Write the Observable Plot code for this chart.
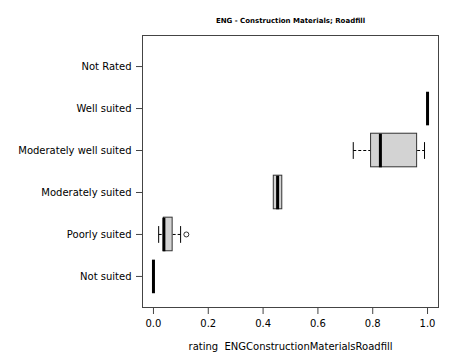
<!DOCTYPE html>
<html><head><meta charset="utf-8">
<script src="https://cdn.jsdelivr.net/npm/d3@7"></script>
<script src="https://cdn.jsdelivr.net/npm/@observablehq/plot@0.6"></script>
<style>
body{margin:0;background:#fff;}
svg text{white-space:pre;}
</style></head>
<body><div id="chart"></div>
<script>
const title = "ENG - Construction Materials; Roadfill";
const xLabel = "rating  ENGConstructionMaterialsRoadfill";
const categories = ["Not suited","Poorly suited","Moderately suited","Moderately well suited","Well suited","Not Rated"];
const whiskerLo = [0, 0.019, 0.439, 0.729, 1.0, null];
const q1        = [0, 0.038, 0.439, 0.794, 1.0, null];
const median    = [0, 0.038, 0.453, 0.828, 1.0, null];
const q3        = [0, 0.070, 0.470, 0.962, 1.0, null];
const whiskerHi = [0, 0.099, 0.470, 0.989, 1.0, null];
const outlierCat = ["Poorly suited"];
const outlierVal = [0.12];
const xTicks = [0, 0.2, 0.4, 0.6, 0.8, 1.0];

const stats = categories.map((c, i) => ({
  cat: c, pos: i + 1, lo: whiskerLo[i], q1: q1[i], med: median[i], q3: q3[i], hi: whiskerHi[i]
})).filter(d => d.med != null);
const outliers = outlierCat.map((c, i) => ({pos: categories.indexOf(c) + 1, v: outlierVal[i]}));

const font = "DejaVu Sans";
const chart = Plot.plot({
  width: 474, height: 355,
  marginLeft: 142, marginRight: 36, marginTop: 35, marginBottom: 48,
  style: {fontFamily: font, fontSize: "10px", color: "#000", background: "#fff"},
  x: {domain: [-0.04, 1.04], ticks: xTicks, tickFormat: d3.format(".1f")},
  y: {domain: [0.26, 6.74], ticks: categories.map((c, i) => i + 1), tickFormat: d => categories[d - 1]},
  marks: [
    Plot.frame({stroke: "#444", strokeWidth: 1}),
    Plot.axisX({ticks: xTicks, tickFormat: d3.format(".1f"), tickSize: 7, tickPadding: 5, label: null, stroke: "#444"}),
    Plot.axisY({ticks: categories.map((c, i) => i + 1), tickFormat: d => categories[d - 1], tickSize: 6, tickPadding: 5, label: null, stroke: "#444"}),
    Plot.link(stats.filter(d => d.lo < d.q1), {x1: "lo", x2: "q1", y1: "pos", y2: "pos", stroke: "#000", strokeDasharray: "3,2"}),
    Plot.link(stats.filter(d => d.hi > d.q3), {x1: "q3", x2: "hi", y1: "pos", y2: "pos", stroke: "#000", strokeDasharray: "3,2"}),
    Plot.link(stats.filter(d => d.lo < d.q1), {x1: "lo", x2: "lo", y1: d => d.pos - 0.2, y2: d => d.pos + 0.2, stroke: "#000"}),
    Plot.link(stats.filter(d => d.hi > d.q3), {x1: "hi", x2: "hi", y1: d => d.pos - 0.2, y2: d => d.pos + 0.2, stroke: "#000"}),
    Plot.rect(stats.filter(d => d.q3 > d.q1), {x1: "q1", x2: "q3", y1: d => d.pos - 0.4, y2: d => d.pos + 0.4, fill: "#d3d3d3", stroke: "#333"}),
    Plot.link(stats, {x1: "med", x2: "med", y1: d => d.pos - 0.4, y2: d => d.pos + 0.4, stroke: "#000", strokeWidth: 3}),
    Plot.dot(outliers, {x: "v", y: "pos", r: 2.5, stroke: "#000", strokeWidth: 0.8, fill: "none"}),
    Plot.text([title], {frameAnchor: "top", dy: -17, fontWeight: "bold", fontSize: 7, fill: "#000"}),
    Plot.text([xLabel], {frameAnchor: "bottom", dy: 42, fontSize: 10, fill: "#000"})
  ]
});
document.getElementById("chart").appendChild(chart);
</script></body></html>
